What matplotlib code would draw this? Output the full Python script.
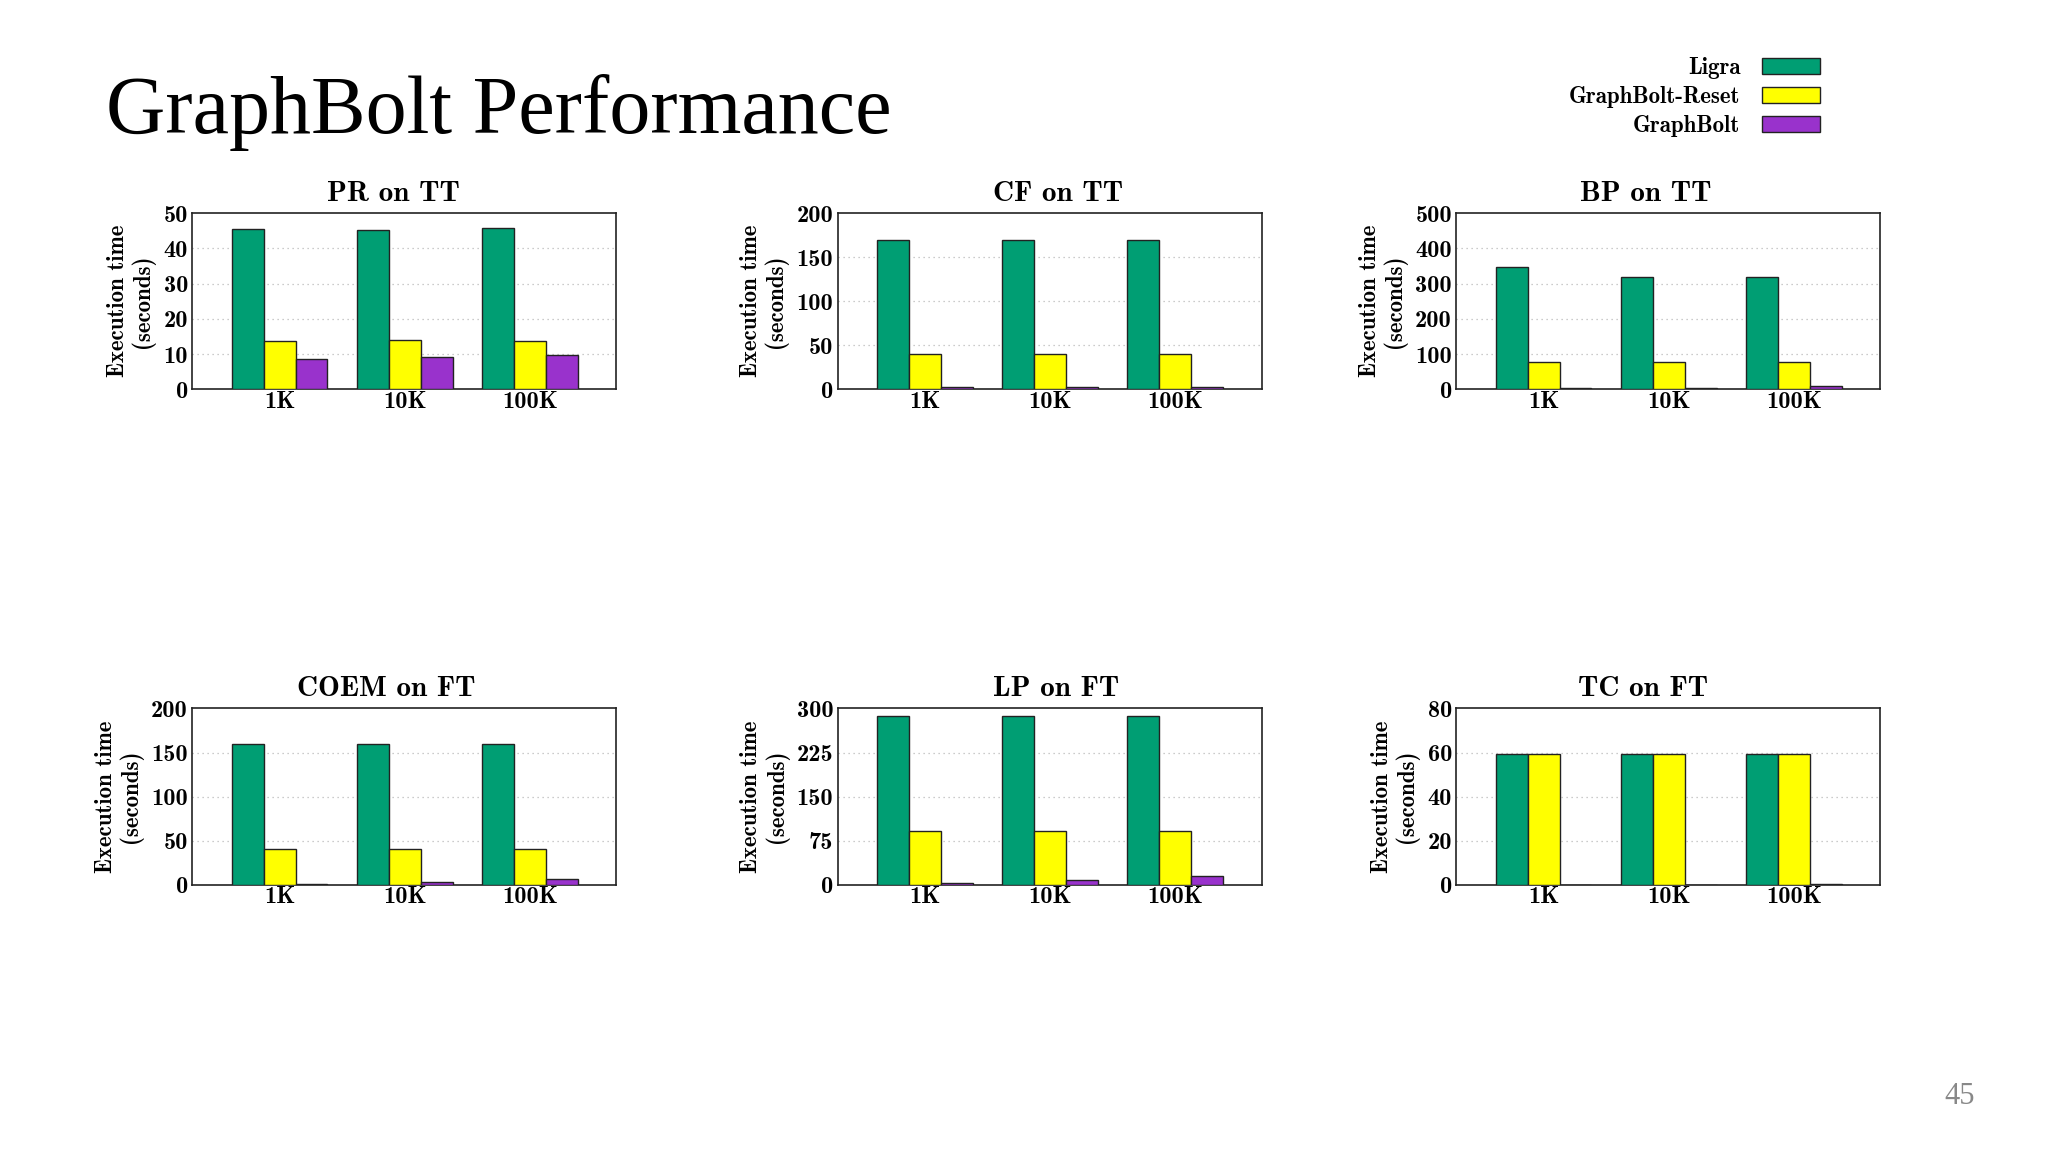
import numpy as np
import matplotlib.pyplot as plt

sizes = ['1K', '10K', '100K']
series = ['Ligra', 'GraphBolt-Reset', 'GraphBolt']
colors = ['#009e73', '#ffff00', '#9932cc']

titles = ['PR on TT', 'CF on TT', 'BP on TT', 'COEM on FT', 'LP on FT', 'TC on FT']
ymax = [50, 200, 500, 200, 300, 80]
ystep = [10, 50, 100, 50, 75, 20]
title_x = [0.475, 0.521, 0.448, 0.458, 0.515, 0.442]

# execution time (seconds): one list per algorithm, order Ligra / Reset / GraphBolt
pr_ligra = [45.5, 45.3, 45.7]
pr_reset = [13.8, 13.9, 13.8]
pr_gb = [8.5, 9.1, 9.7]

cf_ligra = [170.0, 169.3, 169.0]
cf_reset = [40.5, 40.2, 40.5]
cf_gb = [2.6, 2.5, 3.0]

bp_ligra = [347, 320, 320]
bp_reset = [77, 77, 77]
bp_gb = [3, 5, 8.5]

coem_ligra = [159.6, 160.0, 160.0]
coem_reset = [40.0, 40.0, 40.0]
coem_gb = [0.8, 3.4, 6.4]

lp_ligra = [287, 287, 287]
lp_reset = [91.7, 91.7, 91.7]
lp_gb = [3.4, 8.5, 14.7]

tc_ligra = [59.4, 59.4, 59.4]
tc_reset = [59.4, 59.4, 59.4]
tc_gb = [0.05, 0.05, 0.2]

data = [
    [pr_ligra, pr_reset, pr_gb],
    [cf_ligra, cf_reset, cf_gb],
    [bp_ligra, bp_reset, bp_gb],
    [coem_ligra, coem_reset, coem_gb],
    [lp_ligra, lp_reset, lp_gb],
    [tc_ligra, tc_reset, tc_gb],
]

cm = ['cmb10', 'DejaVu Serif']

fig = plt.figure(figsize=(20.48, 11.52), dpi=100)
fig.patch.set_facecolor('white')

lefts = [0.0938, 0.409, 0.711]
bottoms = [0.662, 0.232]
w, h = 0.207, 0.153

x = np.arange(len(sizes))
bw = 0.255
handles = []
for i, title in enumerate(titles):
    ax = fig.add_axes([lefts[i % 3], bottoms[i // 3], w, h])
    for j in range(3):
        b = ax.bar(x + (j - 1) * bw, data[i][j], bw, color=colors[j],
                   edgecolor='#222222', linewidth=1.0, zorder=3)
        if i == 0:
            handles.append(b)
    ax.set_xlim(-0.70, 2.69)
    ax.set_ylim(0, ymax[i])
    ticks = np.arange(0, ymax[i] + 1, ystep[i])
    ax.set_yticks(ticks)
    ax.set_yticklabels([str(t) for t in ticks], fontfamily=cm, fontsize=17.5)
    ax.set_xticks(x)
    ax.set_xticklabels(sizes, fontfamily=cm, fontsize=17.5)
    ax.tick_params(length=0, pad=3)
    ax.tick_params(axis='x', pad=1)
    for t in ticks[1:-1]:
        ax.axhline(t, color='#bbbbbb', linestyle=(0, (1, 3)), linewidth=0.9, zorder=1)
    for s in ax.spines.values():
        s.set_linewidth(1.2)
        s.set_color('#222222')
    ax.set_title(title, fontfamily=cm, fontsize=21, pad=9, x=title_x[i])
    ax.set_ylabel('Execution time\n(seconds)', fontfamily=cm, fontsize=16.5,
                  linespacing=1.1, labelpad=6)

fig.text(0.052, 0.902, 'GraphBolt Performance', fontfamily='Liberation Serif',
         fontsize=59, va='center', ha='left')

fig.legend(handles, series, loc='upper right', bbox_to_anchor=(0.8985, 0.968),
           frameon=False, markerfirst=False, prop={'family': cm, 'size': 16.5},
           handlelength=2.5, handleheight=0.7, labelspacing=0.3, handletextpad=0.95)

fig.text(0.957, 0.048, '45', fontfamily='Liberation Serif', fontsize=22,
         color='#888888', ha='center', va='center')

fig.savefig('out.png', dpi=100)
